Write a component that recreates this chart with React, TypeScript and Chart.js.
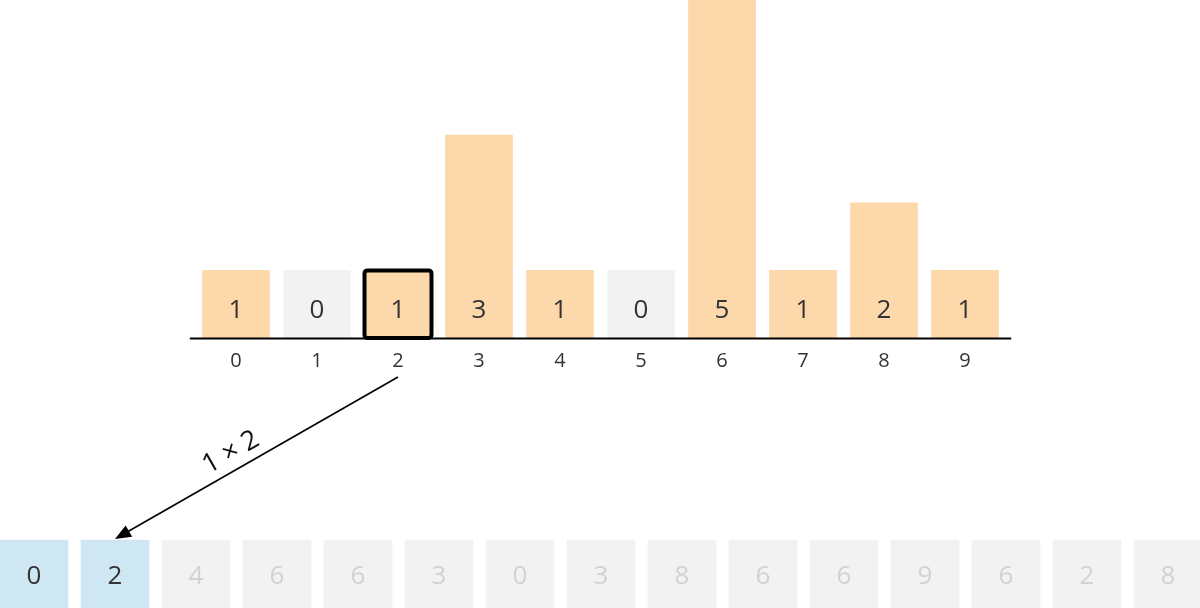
import React, { useEffect, useRef } from 'react';
import { Chart, registerables } from 'chart.js';

Chart.register(...registerables);

// ---- data ----
const categories = ['0', '1', '2', '3', '4', '5', '6', '7', '8', '9'];
const counts = [1, 0, 1, 3, 1, 0, 5, 1, 2, 1];
const outputValues = [0, 2, 4, 6, 6, 3, 0, 3, 8, 6, 6, 9, 6, 2, 8];
const filledCells = 2;
const highlightIndex = 2;
const targetCell = 1;
const arrowLabel = '1 × 2';

// ---- styles ----
const ORANGE = '#fdd8ab';
const GREY = '#f2f2f2';
const BLUE = '#cfe6f3';
const TEXT = '#333333';
const FADED = '#d2d2d2';
const FONT = '"Open Sans", sans-serif';

const W = 1200;
const H = 608;

const overlay = {
  id: 'overlay',
  afterDatasetsDraw(chart: any) {
    const ctx = chart.ctx as CanvasRenderingContext2D;
    const x = chart.scales.x;
    const y = chart.scales.y;
    const barMeta = chart.getDatasetMeta(0);
    const cellMeta = chart.getDatasetMeta(1);
    const base = y.getPixelForValue(0);

    ctx.save();
    // axis baseline
    ctx.strokeStyle = '#000';
    ctx.lineWidth = 2;
    ctx.beginPath();
    ctx.moveTo(x.getPixelForValue(-0.57), base + 0.5);
    ctx.lineTo(x.getPixelForValue(categories.length - 1 + 0.57), base + 0.5);
    ctx.stroke();

    // value labels + tick labels
    ctx.textAlign = 'center';
    ctx.textBaseline = 'alphabetic';
    barMeta.data.forEach((el: any, i: number) => {
      ctx.fillStyle = TEXT;
      ctx.font = `26px ${FONT}`;
      ctx.fillText(String(counts[i]), el.x, base - 20);
      ctx.font = `20px ${FONT}`;
      ctx.fillText(categories[i], el.x, base + 29);
    });

    // highlight box
    const h = barMeta.data[highlightIndex];
    ctx.lineWidth = 4;
    ctx.strokeStyle = '#000';
    ctx.beginPath();
    (ctx as any).roundRect(h.x - h.width / 2, h.y, h.width, h.base - h.y, 3);
    ctx.stroke();

    // output cell labels
    cellMeta.data.forEach((el: any, i: number) => {
      ctx.fillStyle = i < filledCells ? TEXT : FADED;
      ctx.font = `26px ${FONT}`;
      ctx.fillText(String(outputValues[i]), el.x, (el.y + el.base) / 2 + 10);
    });

    // arrow
    const t = cellMeta.data[targetCell];
    const sx = h.x;
    const sy = base + 39;
    const ex = t.x;
    const ey = t.y - 1;
    const dx = ex - sx;
    const dy = ey - sy;
    const len = Math.hypot(dx, dy);
    const ux = dx / len;
    const uy = dy / len;
    const headLen = 16;
    const headHalf = 6.5;
    ctx.strokeStyle = '#000';
    ctx.lineWidth = 1.6;
    ctx.beginPath();
    ctx.moveTo(sx, sy);
    ctx.lineTo(ex - ux * (headLen - 2), ey - uy * (headLen - 2));
    ctx.stroke();
    const bx = ex - ux * headLen;
    const by = ey - uy * headLen;
    ctx.fillStyle = '#000';
    ctx.beginPath();
    ctx.moveTo(ex, ey);
    ctx.lineTo(bx + uy * headHalf, by - ux * headHalf);
    ctx.lineTo(bx - uy * headHalf, by + ux * headHalf);
    ctx.closePath();
    ctx.fill();

    // arrow label
    const tt = 0.56;
    const px = sx + dx * tt;
    const py = sy + dy * tt;
    let nx = -uy;
    let ny = ux;
    if (ny > 0) { nx = -nx; ny = -ny; }
    const off = 17.5;
    ctx.translate(px + nx * off, py + ny * off);
    ctx.rotate(Math.atan2(-dy, -dx));
    ctx.fillStyle = '#111';
    ctx.font = `27px ${FONT}`;
    ctx.textBaseline = 'middle';
    ctx.fillText(arrowLabel, 0, 0);
    ctx.restore();
  },
};

export default function App() {
  const ref = useRef<HTMLCanvasElement | null>(null);

  useEffect(() => {
    if (!ref.current) return;
    const chart = new Chart(ref.current, {
      type: 'bar',
      data: {
        datasets: [
          {
            data: counts.map((c, i) => ({ x: i, y: Math.max(c, 1) })),
            xAxisID: 'x',
            yAxisID: 'y',
            backgroundColor: counts.map((c) => (c === 0 ? GREY : ORANGE)),
            grouped: false,
            categoryPercentage: 1,
            barPercentage: 1,
            maxBarThickness: 67,
            borderWidth: 0,
          },
          {
            data: outputValues.map((_, i) => ({ x: i, y: 1 })),
            xAxisID: 'x2',
            yAxisID: 'y2',
            backgroundColor: outputValues.map((_, i) => (i < filledCells ? BLUE : GREY)),
            grouped: false,
            categoryPercentage: 1,
            barPercentage: 1,
            maxBarThickness: 68,
            borderWidth: 0,
          },
        ],
      } as any,
      options: {
        animation: false,
        responsive: false,
        events: [],
        layout: { padding: 0 },
        plugins: { legend: { display: false }, tooltip: { enabled: false } },
        scales: {
          x: { type: 'linear', display: false, offset: false, min: -236 / 81, max: (W - 236) / 81 },
          y: { type: 'linear', display: false, min: -1350 / 338, max: 5 },
          x2: { type: 'linear', axis: 'x', position: 'bottom', display: false, offset: false, min: -34 / 81, max: (W - 34) / 81 },
          y2: { type: 'linear', axis: 'y', position: 'left', display: false, min: 0, max: H / 68 },
        },
      } as any,
      plugins: [overlay],
    });
    if ((document as any).fonts) {
      (document as any).fonts.load(`26px ${FONT}`).then(() => chart.draw()).catch(() => {});
    }
    return () => chart.destroy();
  }, []);

  return (
    <div style={{ position: 'fixed', left: 0, top: 0, width: W, height: H, background: '#fff' }}>
      <canvas ref={ref} width={W} height={H} style={{ display: 'block' }} />
    </div>
  );
}
